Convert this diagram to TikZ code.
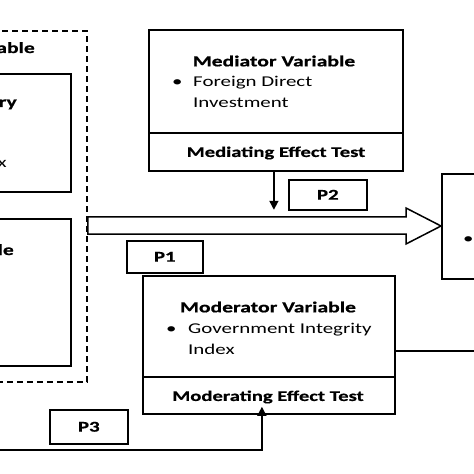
\documentclass[tikz,border=0pt]{standalone}
\usepackage{fontspec}
\setmainfont[FakeStretch=1.4,BoldFeatures={FakeBold=0.6}]{Carlito}
\usetikzlibrary{arrows.meta}
\tikzset{
  box/.style={draw, line width=1.8bp, anchor=north west, inner sep=0pt},
  dashbox/.style={draw, line width=1.8bp, dash pattern=on 6bp off 4bp, anchor=north west, inner sep=0pt},
  plab/.style={draw, line width=1.6bp, anchor=north west, inner sep=0pt},
  ptext/.style={font=\fontsize{15}{17}\selectfont\bfseries, inner sep=0pt},
  head/.style={font=\fontsize{15.5}{18}\selectfont\bfseries, inner sep=0pt},
  body/.style={font=\fontsize{15}{18}\selectfont, inner sep=0pt, anchor=base west},
  testlab/.style={font=\fontsize{14.8}{17}\selectfont\bfseries, inner sep=0pt},
  conn/.style={line width=1.5bp},
  arr/.style={conn, -{Triangle[length=9bp,width=9bp]}},
}
\begin{document}
\begin{tikzpicture}[x=1bp,y=-1bp]
\useasboundingbox (0,0) rectangle (474,474);
\clip (0,0) rectangle (474,474);
\fill[white] (0,0) rectangle (474,474);
% left independent variable group
\node[dashbox, minimum width=110bp, minimum height=351bp] (iv) at (-24,30) {};
\node[head, anchor=base east] (ivt) at (35,53) {able};
\node[box, minimum width=94bp, minimum height=118bp] (iv1) at (-24,73) {};
\node[head, anchor=base east] (iv1t) at (17,107) {ry};
\node[body, anchor=base east] (iv1x) at (7,168) {x};
\node[box, minimum width=94bp, minimum height=147bp] (iv2) at (-24,218) {};
\node[head, anchor=base east] (iv2t) at (14,255) {le};
% mediator
\node[box, minimum width=254bp, minimum height=141bp] (med) at (148,29) {};
\draw[line width=1.8bp] (med.west |- 0,133) -- (med.east |- 0,133);
\node[head] (medt) at (274,61) {Mediator Variable};
\node[body] (medb) at (172,87) {\textbullet};
\node[body] (med1) at (193,87) {Foreign Direct};
\node[body] (med2) at (193,108) {Investment};
\node[testlab] (medtest) at (276,153) {Mediating Effect Test};
% moderator
\node[box, minimum width=252bp, minimum height=138bp] (mod) at (142,275) {};
\draw[line width=1.8bp] (mod.west |- 0,377) -- (mod.east |- 0,377);
\node[head] (modt) at (268,307) {Moderator Variable};
\node[body] (modb) at (166,333) {\textbullet};
\node[body] (mod1) at (188,333) {Government Integrity};
\node[body] (mod2) at (188,354) {Index};
\node[testlab] (modtest) at (268,397) {Moderating Effect Test};
% dependent
\node[box, minimum width=60bp, minimum height=105bp] (dv) at (441,173) {};
\node[body] (dvb) at (463,243) {\textbullet};
% P labels
\node[plab, minimum width=76bp, minimum height=32bp] (p1) at (126,240) {};
\node[ptext] (p1t) at (p1.center) {P1};
\node[plab, minimum width=78bp, minimum height=30bp] (p2) at (288,179) {};
\node[ptext] (p2t) at (p2.center) {P2};
\node[plab, minimum width=78bp, minimum height=34bp] (p3) at (49,409) {};
\node[ptext] (p3t) at (p3.center) {P3};
% block arrow from IV to DV
\draw[conn, fill=white, line join=miter]
  (iv.east |- 0,217) -- (406,217) -- (406,208) -- (dv.west |- 0,226) -- (406,244)
  -- (406,234) -- (iv.east |- 0,234) -- cycle;
% mediator arrow
\draw[arr] ([xshift=-2bp]med.south) -- ++(0,38);
% moderator line to the right
\coordinate (rend) at (480,351);
\draw[conn] (mod.east |- rend) -- (rend);
% P3 line into moderator
\coordinate (lend) at (-6,450);
\draw[arr] (lend) -- ([xshift=-7bp]mod.south |- lend) -- ([xshift=-7bp,yshift=8bp]mod.south);
\end{tikzpicture}
\end{document}
